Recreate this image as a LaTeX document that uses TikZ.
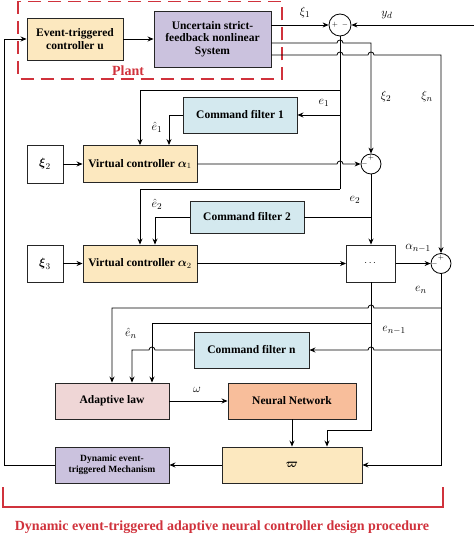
\documentclass[tikz,border=0pt]{standalone}
\usepackage{amsmath}
\usepackage{fontspec}
\setmainfont{Liberation Serif}
\usetikzlibrary{arrows.meta,calc}
\definecolor{cyel}{HTML}{FCE8BF}
\definecolor{clav}{HTML}{CBC2DE}
\definecolor{cblue}{HTML}{D4E9EF}
\definecolor{cpink}{HTML}{EFD6D6}
\definecolor{csal}{HTML}{F8BE9B}
\definecolor{cred}{HTML}{D0323C}
\begin{document}
\begin{tikzpicture}[x=1pt,y=-1pt,
  box/.style={draw=black!85, line width=0.9pt, inner sep=1pt, align=center, font=\bfseries\fontsize{11.5}{12.5}\selectfont},
  sumc/.style={draw, circle, line width=0.8pt, inner sep=0pt},
  conn/.style={line width=0.8pt, -{Stealth[length=6pt,width=5pt]}},
  ln/.style={line width=0.8pt},
  lab/.style={font=\fontsize{13}{13}\selectfont, inner sep=0pt},
  sgn/.style={font=\fontsize{7}{7}\selectfont, inner sep=0pt}]
\useasboundingbox (0,0) rectangle (474,537);

% Plant
\draw[cred, line width=1.5pt, dash pattern=on 13pt off 7pt] (18,1.5) rectangle (282,79);
\node[text=cred, font=\bfseries\fontsize{14}{14}\selectfont] (plant) at (128,71) {Plant};

% nodes
\node[box, fill=cyel, minimum width=96pt, minimum height=42pt] (etc) at (75,39) {Event-triggered\\controller u};
\node[box, fill=clav, minimum width=117pt, minimum height=56pt] (sys) at (212.5,39) {Uncertain strict-\\feedback nonlinear\\System};
\node[sumc, minimum size=22pt] (c1) at (340,25) {};
\node[box, fill=cblue, minimum width=114pt, minimum height=36pt] (cf1) at (240,115) {Command filter 1};
\node[box, fill=white, minimum width=36pt, minimum height=38pt, font=\fontsize{13}{13}\selectfont] (x2) at (45,164) {$\boldsymbol{\xi}_2$};
\node[box, fill=cyel, minimum width=114pt, minimum height=37pt] (vc1) at (140,164) {Virtual controller $\boldsymbol{\alpha}_1$};
\node[sumc, minimum size=20pt] (c2) at (371,164) {};
\node[box, fill=cblue, minimum width=114pt, minimum height=32pt] (cf2) at (247,217) {Command filter 2};
\node[box, fill=white, minimum width=36pt, minimum height=37pt, font=\fontsize{13}{13}\selectfont] (x3) at (45,263.5) {$\boldsymbol{\xi}_3$};
\node[box, fill=cyel, minimum width=114pt, minimum height=37pt] (vc2) at (140,263.5) {Virtual controller $\boldsymbol{\alpha}_2$};
\node[box, fill=white, minimum width=49pt, minimum height=37pt, font=\normalfont] (dots) at (371,263.5) {$\cdots$};
\node[sumc, minimum size=20pt] (cn) at (441,263.5) {};
\node[box, fill=cblue, minimum width=115pt, minimum height=36pt] (cfn) at (251.5,350) {Command filter n};
\node[box, fill=cpink, minimum width=114pt, minimum height=36pt] (adl) at (112,401) {Adaptive law};
\node[box, fill=csal, minimum width=128pt, minimum height=36pt] (nn) at (292,401) {Neural Network};
\node[box, fill=cyel, minimum width=140pt, minimum height=36pt, font=\fontsize{12}{12}\selectfont] (vp) at (292,465) {$\boldsymbol{\varpi}$};
\node[box, fill=clav, minimum width=114pt, minimum height=36pt, font=\bfseries\fontsize{9.5}{11}\selectfont] (detm) at (112,465) {Dynamic event-\\triggered Mechanism};

% signs
\node[sgn] at ([xshift=-5pt]c1.center) {$+$};
\node[sgn] at ([xshift=5pt]c1.center) {$-$};
\node[sgn] at ([yshift=6pt]c2.center) {$+$};
\node[sgn] at ([xshift=-6.5pt]c2.center) {$-$};
\node[sgn] at ([yshift=6pt]cn.center) {$+$};
\node[sgn] at ([xshift=-6.5pt]cn.center) {$-$};

% connectors
\coordinate (ydin) at (474,25);
\coordinate (fb) at (4,465);
\draw[conn] (etc.east) -- (sys.west);
\draw[conn] (c1.west -| sys.east) -- (c1.west);
\draw[conn] (ydin) -- (c1.east);
\draw[conn] (sys.east |- 0,43) -- (337,43) arc[start angle=180,end angle=0,radius=3pt] -- (371,43) -- (c2.north);
\draw[conn] (sys.east |- 0,55) -- (337,55) arc[start angle=180,end angle=0,radius=3pt] -- (368,55) arc[start angle=180,end angle=0,radius=3pt] -- (441,55) -- (cn.north);

% e1
\draw[ln] (c1.south) -- (340,189);
\draw[conn] (340,90) -| (vc1.north);
\draw[conn] (340,115) -- (cf1.east);
\draw[conn] (340,189) -| (vc2.north);
\draw[conn] (cf1.west) -| ([xshift=29pt]vc1.north);
\draw[conn] (x2) -- (vc1);
\draw[conn] (vc1.east) -- (337,164) arc[start angle=180,end angle=0,radius=3pt] -- (c2.west);

% e2
\draw[conn] (c2.south) -- (dots.north);
\draw[ln] (dots.north |- cf2.east) -- (cf2.east);
\draw[conn] (cf2.west) -| ([xshift=15pt]vc2.north);
\draw[conn] (x3) -- (vc2);
\draw[conn] (vc2.east) -- (dots.west);
\draw[conn] (dots.east) -- (cn.west);

% en
\draw[conn] (cn.south) |- (vp.east);
\draw[conn] (cn.south |- 0,308) -- (374,308) arc[start angle=0,end angle=180,radius=3pt] -- (adl.north |- 0,308) -- (adl.north);
\draw[conn] (cn.south |- 0,350) -- (374,350) arc[start angle=0,end angle=180,radius=3pt] -- (cfn.east);

% e_{n-1}
\draw[conn] (dots.south) -- (dots.south |- 0,430) -| ([xshift=35pt]vp.north);
\draw[conn] (dots.south |- 0,323) -| ([xshift=40pt]adl.north);
\draw[conn] (cfn.west) -- (155,350) arc[start angle=0,end angle=180,radius=3pt] -| ([xshift=20pt]adl.north);

\draw[conn] (adl.east) -- (nn.west);
\draw[conn] (nn.south) -- (nn.south |- vp.north);
\draw[conn] (vp.west) -- (detm.east);
\draw[conn] (detm.west) -- (fb) |- (etc.west);

% labels
\node[lab] at (305,13) {$\xi_1$};
\node[lab] at (387,15) {$y_d$};
\node[lab] at (324,103) {$e_1$};
\node[lab] at (157,127) {$\hat e_1$};
\node[lab] at (386,97) {$\xi_2$};
\node[lab] at (427,97) {$\xi_n$};
\node[lab] at (355,200) {$e_2$};
\node[lab] at (157,204) {$\hat e_2$};
\node[lab] at (418,248) {$\alpha_{n-1}$};
\node[lab] at (421,290) {$e_n$};
\node[lab] at (394,330) {$e_{n-1}$};
\node[lab] at (131,333) {$\hat e_n$};
\node[lab] at (197,390) {$\omega$};

% bottom bracket
\draw[cred, line width=1.2pt] (3,487) -- (3,507) -- (443,507) -- (443,487);
\node[text=cred, font=\bfseries\fontsize{14}{14}\selectfont] (cap) at (222,527) {Dynamic event-triggered adaptive neural controller design procedure};
\end{tikzpicture}
\end{document}
